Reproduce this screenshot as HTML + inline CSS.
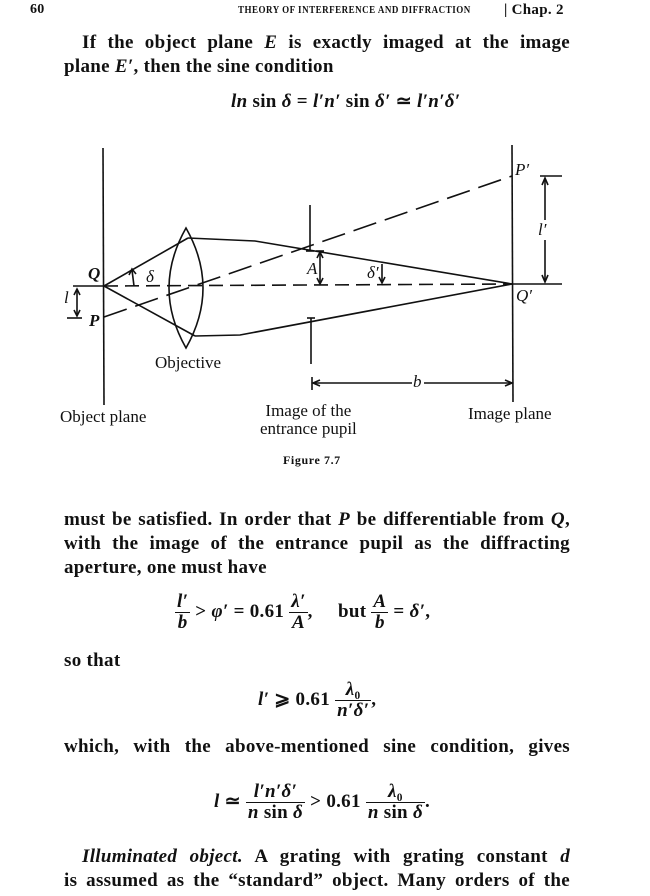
<!DOCTYPE html>
<html><head><meta charset="utf-8"><style>
body{margin:0;width:650px;height:896px;background:#fff;position:relative;overflow:hidden;font-family:"Liberation Serif",serif;color:#111}
.t{position:absolute;font-weight:bold;font-size:19px;white-space:nowrap;letter-spacing:0.3px}
.j{left:64px;width:506px;text-align:justify;text-align-last:justify}
i{font-style:italic}
.fr{display:inline-block;vertical-align:middle;text-align:center;line-height:1.05}
.fr span{display:block;padding:0 2px}
.fr .n{border-bottom:1.5px solid #111}
.lab{position:absolute;font-family:"Liberation Serif",serif;font-size:17px;white-space:nowrap}
</style></head><body>
<div class="t" style="left:30px;top:2px;font-size:14px">60</div>
<div class="t" style="left:238px;top:4px;font-size:11px;letter-spacing:0.6px;transform:scaleX(0.82);transform-origin:0 0">THEORY OF INTERFERENCE AND DIFFRACTION</div>
<div class="t" style="left:504px;top:2px;font-size:15px">| Chap. 2</div>
<div class="t j" style="left:82px;width:488px;top:32px">If the object plane <i>E</i> is exactly imaged at the image</div>
<div class="t" style="left:64px;top:56px">plane <i>E′</i>, then the sine condition</div>
<div class="t" style="left:231px;top:90px"><i>ln</i> sin <i>δ</i> = <i>l′n′</i> sin <i>δ′</i> ≃ <i>l′n′δ′</i></div>

<svg style="position:absolute;left:0;top:0" width="650" height="896" stroke="#111" stroke-width="1.6" fill="none">
<line x1="103" y1="148" x2="104" y2="405"/>
<line x1="512" y1="145" x2="513" y2="402"/>
<line x1="73" y1="286" x2="104" y2="286"/>
<line x1="104" y1="286" x2="512" y2="284" stroke-dasharray="14,7"/>
<line x1="512" y1="284" x2="562" y2="284"/>
<line x1="104" y1="317" x2="512" y2="176" stroke-dasharray="24,9"/>
<line x1="104" y1="286" x2="188" y2="238"/>
<polyline points="188,238 255,241 512,284"/>
<line x1="104" y1="286" x2="195" y2="336"/>
<polyline points="195,336 240,335 512,284"/>
<path d="M186,228 Q152,288 186,348 Q220,288 186,228 Z"/>
<line x1="310" y1="205" x2="310" y2="251"/>
<line x1="306" y1="251" x2="314" y2="251"/>
<line x1="311" y1="318" x2="311" y2="364"/>
<line x1="307" y1="318" x2="315" y2="318"/>
<line x1="316" y1="251" x2="324" y2="251"/>
<line x1="320" y1="253" x2="320" y2="283"/>
<path d="M317,258 L320,252 L323,258 M317,278 L320,284 L323,278" fill="none"/>
<line x1="132" y1="270" x2="134" y2="286"/>
<path d="M129,275 L132,269 L136,274"/>
<line x1="382" y1="264" x2="382" y2="283"/>
<path d="M379,277 L382,283 L385,277"/>
<line x1="67" y1="318" x2="82" y2="318"/>
<line x1="77" y1="289" x2="77" y2="316"/>
<path d="M74,295 L77,289 L80,295 M74,310 L77,316 L80,310"/>
<line x1="540" y1="176" x2="562" y2="176"/>
<line x1="545" y1="179" x2="545" y2="220"/>
<line x1="545" y1="240" x2="545" y2="281"/>
<path d="M542,185 L545,178 L548,185 M542,275 L545,282 L548,275"/>
<line x1="312" y1="377" x2="312" y2="390"/>
<line x1="313" y1="383" x2="412" y2="383"/>
<line x1="424" y1="383" x2="512" y2="383"/>
<path d="M320,380 L313,383 L320,386 M505,380 L512,383 L505,386"/>
</svg>
<div class="lab" style="left:88px;top:264px;font-weight:bold;font-style:italic">Q</div>
<div class="lab" style="left:146px;top:267px;font-style:italic">δ</div>
<div class="lab" style="left:64px;top:288px;font-style:italic">l</div>
<div class="lab" style="left:89px;top:311px;font-weight:bold;font-style:italic">P</div>
<div class="lab" style="left:307px;top:259px;font-style:italic">A</div>
<div class="lab" style="left:367px;top:263px;font-style:italic">δ′</div>
<div class="lab" style="left:515px;top:160px;font-style:italic">P′</div>
<div class="lab" style="left:516px;top:286px;font-style:italic">Q′</div>
<div class="lab" style="left:538px;top:220px;font-style:italic">l′</div>
<div class="lab" style="left:413px;top:372px;font-style:italic">b</div>
<div class="lab" style="left:155px;top:353px">Objective</div>
<div class="lab" style="left:60px;top:407px">Object plane</div>
<div class="lab" style="left:260px;top:402px;text-align:center;line-height:18px">Image of the<br>entrance pupil</div>
<div class="lab" style="left:468px;top:404px">Image plane</div>
<div class="t" style="left:283px;top:453px;font-size:12px;letter-spacing:0.6px">Figure 7.7</div>

<div class="t j" style="top:509px">must be satisfied. In order that <i>P</i> be differentiable from <i>Q</i>,</div>
<div class="t j" style="top:533px">with the image of the entrance pupil as the diffracting</div>
<div class="t" style="left:64px;top:557px">aperture, one must have</div>
<div class="t" style="left:175px;top:592px"><span class="fr"><span class="n"><i>l′</i></span><span><i>b</i></span></span> &gt; <i>φ′</i> = 0.61 <span class="fr"><span class="n"><i>λ′</i></span><span><i>A</i></span></span>,&nbsp;&nbsp;&nbsp;&nbsp;&nbsp;but <span class="fr"><span class="n"><i>A</i></span><span><i>b</i></span></span> = <i>δ′</i>,</div>
<div class="t" style="left:64px;top:650px">so that</div>
<div class="t" style="left:258px;top:680px"><i>l′</i> ⩾ 0.61 <span class="fr"><span class="n"><i>λ</i>₀</span><span><i>n′δ′</i></span></span>,</div>
<div class="t j" style="top:736px">which, with the above-mentioned sine condition, gives</div>
<div class="t" style="left:214px;top:782px"><i>l</i> ≃ <span class="fr"><span class="n"><i>l′n′δ′</i></span><span><i>n</i> sin <i>δ</i></span></span> &gt; 0.61 <span class="fr"><span class="n"><i>λ</i>₀</span><span><i>n</i> sin <i>δ</i></span></span>.</div>
<div class="t j" style="left:82px;width:488px;top:846px"><i>Illuminated object.</i> A grating with grating constant <i>d</i></div>
<div class="t j" style="top:870px">is assumed as the “standard” object. Many orders of the</div>
</body></html>
